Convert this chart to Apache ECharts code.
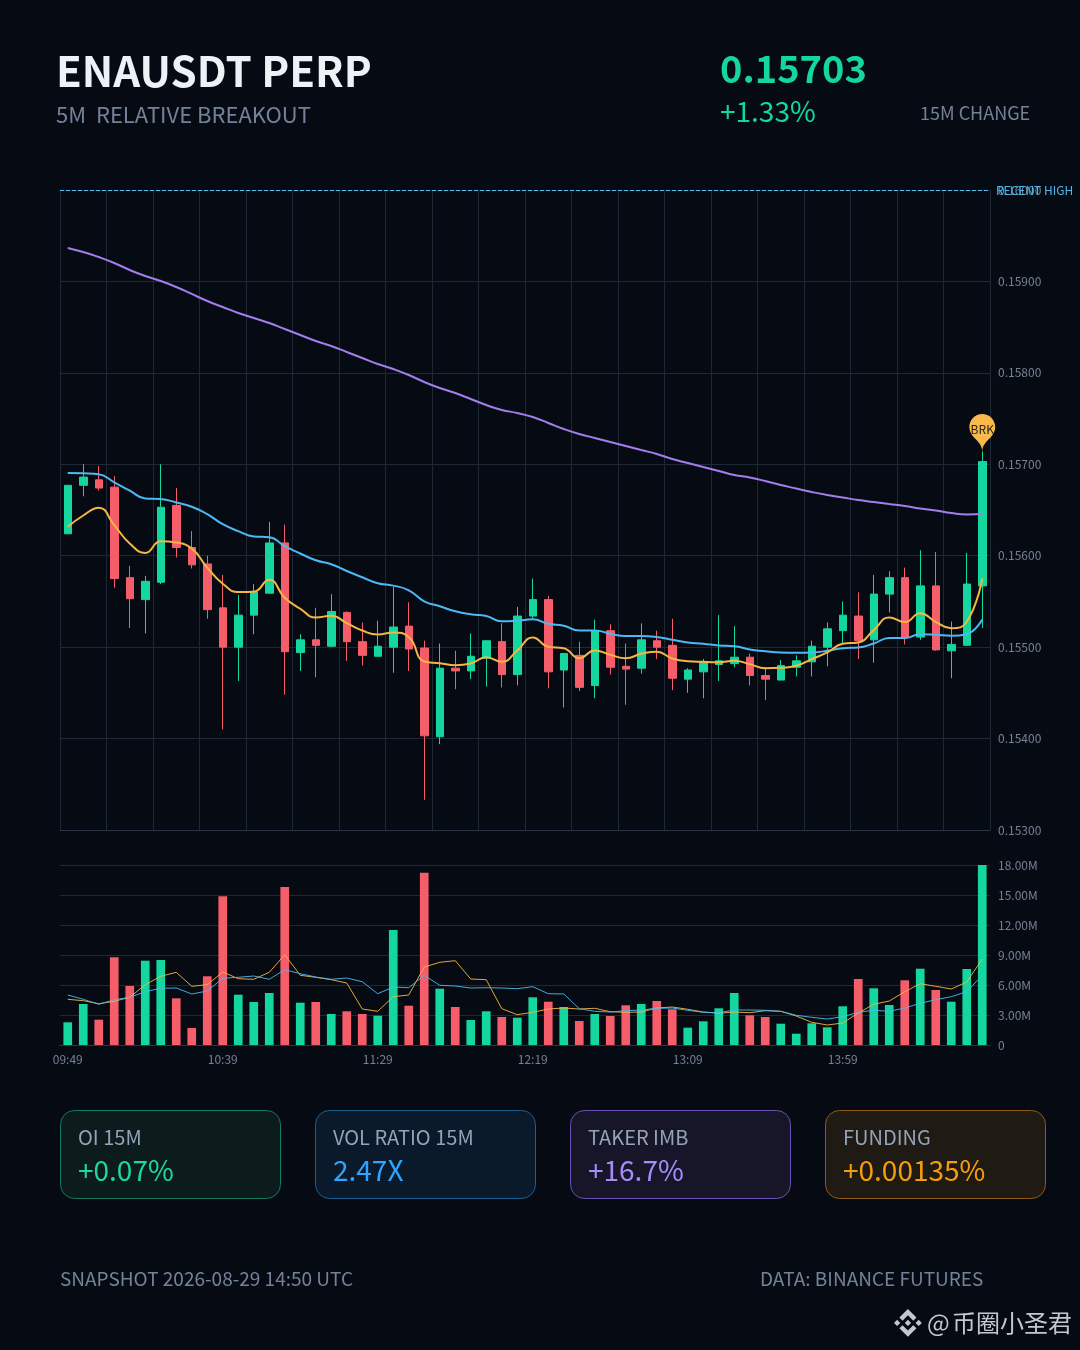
<!DOCTYPE html>
<html>
<head>
<meta charset="utf-8">
<style>html,body{margin:0;padding:0;background:#060b13}#c{width:1080px;height:1350px}</style>
<script src="https://cdn.jsdelivr.net/npm/echarts@6/dist/echarts.min.js"></script>
</head>
<body>
<div id="c"></div>
<script>
const categories = ["09:49","09:54","09:59","10:04","10:09","10:14","10:19","10:24","10:29","10:34","10:39","10:44","10:49","10:54","10:59","11:04","11:09","11:14","11:19","11:24","11:29","11:34","11:39","11:44","11:49","11:54","11:59","12:04","12:09","12:14","12:19","12:24","12:29","12:34","12:39","12:44","12:49","12:54","12:59","13:04","13:09","13:14","13:19","13:24","13:29","13:34","13:39","13:44","13:49","13:54","13:59","14:04","14:09","14:14","14:19","14:24","14:29","14:34","14:39","14:44"];
const opens = [.15624,.15677,.15683,.15675,.15576,.15552,.15571,.15655,.15609,.15591,.15543,.15500,.15535,.15559,.15614,.15494,.15508,.15501,.15538,.15506,.15490,.15500,.15523,.15499,.15402,.15477,.15474,.15488,.15506,.15470,.15534,.15552,.15475,.15491,.15458,.15518,.15479,.15477,.15507,.15502,.15465,.15473,.15481,.15482,.15489,.15469,.15464,.15478,.15484,.15500,.15518,.15534,.15508,.15558,.15576,.15511,.15567,.15496,.15502,.15567];
const closes = [.15677,.15686,.15674,.15575,.15553,.15572,.15653,.15609,.15590,.15541,.15500,.15535,.15560,.15614,.15495,.15508,.15502,.15539,.15506,.15491,.15501,.15522,.15498,.15403,.15477,.15474,.15490,.15507,.15470,.15534,.15552,.15473,.15493,.15456,.15518,.15478,.15476,.15508,.15500,.15466,.15475,.15484,.15485,.15489,.15469,.15465,.15480,.15485,.15501,.15520,.15535,.15507,.15558,.15576,.15511,.15567,.15497,.15503,.15569,.15703];
const highs = [.15677,.15700,.15698,.15687,.15589,.15578,.15700,.15674,.15627,.15600,.15579,.15557,.15569,.15637,.15634,.15514,.15543,.15558,.15539,.15527,.15529,.15566,.15549,.15507,.15504,.15496,.15515,.15507,.15526,.15544,.15575,.15556,.15493,.15506,.15530,.15525,.15504,.15526,.15518,.15531,.15477,.15487,.15535,.15523,.15493,.15478,.15486,.15491,.15507,.15527,.15550,.15560,.15579,.15583,.15587,.15606,.15604,.15528,.15603,.15714];
const lows = [.15624,.15665,.15671,.15565,.15521,.15515,.15569,.15598,.15586,.15531,.15410,.15463,.15514,.15559,.15448,.15474,.15467,.15500,.15485,.15480,.15490,.15472,.15474,.15333,.15394,.15454,.15465,.15457,.15456,.15458,.15530,.15455,.15434,.15452,.15444,.15470,.15437,.15471,.15487,.15453,.15450,.15444,.15463,.15478,.15458,.15442,.15464,.15468,.15468,.15479,.15504,.15487,.15483,.15538,.15503,.15508,.15496,.15466,.15502,.15521];
const maFast = [.156316,.156440,.156525,.156334,.156133,.156031,.156159,.156144,.156078,.155870,.155694,.155603,.155607,.155738,.155541,.155420,.155325,.155343,.155263,.155182,.155139,.155161,.155110,.154843,.154824,.154802,.154821,.154890,.154839,.154963,.155106,.155004,.154989,.154879,.154963,.154916,.154879,.154927,.154949,.154876,.154846,.154839,.154836,.154850,.154814,.154770,.154774,.154796,.154869,.154942,.155037,.155051,.155186,.155325,.155274,.155372,.155277,.155208,.155277,.155752];
const maMid = [.156905,.156901,.156890,.156803,.156711,.156627,.156620,.156583,.156536,.156455,.156345,.156269,.156210,.156203,.156104,.156024,.155950,.155907,.155833,.155764,.155699,.155673,.155622,.155501,.155447,.155392,.155359,.155340,.155282,.155289,.155304,.155256,.155234,.155183,.155183,.155146,.155121,.155121,.155110,.155081,.155051,.155037,.155018,.155011,.154974,.154956,.154942,.154938,.154942,.154960,.154989,.154996,.155040,.155099,.155099,.155142,.155135,.155124,.155142,.155303];
const maSlow = [.159366,.159322,.159267,.159202,.159125,.159059,.159005,.158939,.158863,.158786,.158720,.158655,.158600,.158545,.158480,.158414,.158348,.158294,.158228,.158163,.158097,.158042,.157977,.157900,.157834,.157780,.157714,.157648,.157594,.157561,.157517,.157452,.157386,.157331,.157288,.157244,.157200,.157156,.157113,.157058,.157014,.156970,.156927,.156883,.156855,.156817,.156773,.156735,.156697,.156664,.156637,.156609,.156588,.156566,.156544,.156516,.156495,.156467,.156451,.156456];
const volumeM = [2.27,4.10,2.53,8.77,5.90,8.43,8.50,4.67,1.70,6.87,14.87,5.03,4.30,5.20,15.80,4.23,4.30,3.10,3.37,3.10,2.93,11.50,3.93,17.23,5.63,3.80,2.50,3.37,2.80,2.73,4.77,4.33,3.80,2.40,3.10,2.90,3.97,4.10,4.40,3.57,1.73,2.37,3.67,5.20,2.97,2.80,2.13,1.13,2.17,1.77,3.87,6.60,5.67,4.00,6.47,7.63,5.50,4.33,7.60,18.00];
const volFastM = [4.57,4.43,4.13,4.37,4.77,6.03,6.87,7.27,5.87,6.03,7.30,6.63,6.57,7.27,9.03,6.97,6.77,6.53,6.20,3.60,3.37,4.83,5.00,7.80,8.27,8.43,6.60,6.53,3.63,3.03,3.27,3.60,3.70,3.60,3.67,3.33,3.27,3.30,3.70,3.80,3.57,3.30,3.17,3.30,3.23,3.43,3.37,2.90,2.27,2.00,2.20,3.20,4.07,4.40,5.33,6.13,5.87,5.60,6.30,8.60];
const volSlowM = [5.00,4.57,4.07,4.53,4.77,5.33,5.67,5.70,5.10,5.40,6.67,6.77,6.90,6.57,7.53,7.13,6.80,6.57,6.70,6.33,5.13,5.80,5.73,6.97,5.97,5.90,5.70,5.73,5.70,5.63,5.83,5.13,5.10,3.63,3.37,3.30,3.43,3.50,3.67,3.70,3.47,3.27,3.23,3.50,3.50,3.47,3.37,2.97,2.77,2.60,2.83,3.27,3.47,3.37,3.70,4.17,4.53,4.83,5.33,6.97];
const recentHigh = 0.16;
const breakoutPrice = 0.15714;
const stats = [
  {label:"OI 15M", value:"+0.07%", fill:"#0c1c1c", stroke:"#127a5e", color:"#1fd6a0"},
  {label:"VOL RATIO 15M", value:"2.47X", fill:"#0a1a2a", stroke:"#1d5f90", color:"#2ea6ff"},
  {label:"TAKER IMB", value:"+16.7%", fill:"#171528", stroke:"#6a50b4", color:"#a78bfa"},
  {label:"FUNDING", value:"+0.00135%", fill:"#1f1a14", stroke:"#8c5c18", color:"#f59e0b"}
];

const FONT = '"Noto Sans CJK SC","Noto Sans",sans-serif';
const UP = '#14d69f', DOWN = '#f65d6b';
const GRID = '#1e2836', AXT = '#748295', MUTED = '#748299';
const chart = echarts.init(document.getElementById('c'), null, {renderer:'canvas', width:1080, height:1350});

function txt(x, y, text, size, color, weight){
  return {type:'text', x, y, silent:true, style:{text, fontFamily:FONT, fontSize:size, fontWeight:weight||'normal', fill:color, verticalAlign:'middle'}};
}
const logoParts = [
  [[12,9.28],[14.72,12],[12,14.72],[9.27,12]],
  [[2.72,9.28],[5.41,12],[2.72,14.69],[0,12]],
  [[21.26,9.28],[24,12],[21.28,14.72],[18.57,12]],
  [[11.99,0.01],[19.34,7.34],[16.62,10.06],[11.99,5.42],[7.35,10.08],[4.63,7.36]],
  [[16.62,13.92],[19.34,16.64],[11.99,23.99],[4.64,16.64],[7.35,13.92],[11.99,18.58]]
];
const graphics = [
  txt(56,71,'ENAUSDT PERP',42,'#eef2f7','bold'),
  txt(56,115,'5M  RELATIVE BREAKOUT',22,MUTED),
  txt(720,69,'0.15703',38,UP,'bold'),
  txt(720,111,'+1.33%',28,UP),
  txt(920,113,'15M CHANGE',18,MUTED),
  txt(60,1279,'SNAPSHOT 2026-08-29 14:50 UTC',19,MUTED),
  txt(760,1279,'DATA: BINANCE FUTURES',19,MUTED),
  txt(927,1323,'@',24,'#c4c8cc'),
  txt(952,1323,'币圈小圣君',24,'#c4c8cc'),
  {type:'group', x:894, y:1309, scaleX:1.16, scaleY:1.16, silent:true,
    children:logoParts.map(p=>({type:'polygon', silent:true, shape:{points:p}, style:{fill:'#c4c8cc'}}))}
];
stats.forEach((s,i)=>{
  const x = 60.5 + 255*i;
  graphics.push({type:'rect', x, y:1110.5, silent:true, shape:{x:0,y:0,width:220,height:88,r:14}, style:{fill:s.fill, stroke:s.stroke, lineWidth:1}});
  graphics.push(txt(x+17.5,1137,s.label,20,'#94a3b8'));
  graphics.push(txt(x+17.5,1170,s.value,28,s.color));
});

const candleData = categories.map((_,i)=>[opens[i],closes[i],lows[i],highs[i]]);
const volumeData = volumeM.map((v,i)=>({value:v*1e6, itemStyle:{color: closes[i]>=opens[i]?UP:DOWN}}));
const toUnits = a => a.map(v=>v*1e6);

chart.setOption({
  animation:false,
  backgroundColor:'#060b13',
  textStyle:{fontFamily:FONT},
  graphic:graphics,
  grid:[
    {left:60,right:90,top:190,height:640,containLabel:false},
    {left:60,right:90,top:865,height:180,containLabel:false}
  ],
  xAxis:[
    {type:'category',gridIndex:0,data:categories,boundaryGap:true,
      axisLine:{lineStyle:{color:'#2a3546',width:1}},axisTick:{show:false},axisLabel:{show:false},
      splitLine:{show:true,interval:2,lineStyle:{color:GRID,width:1}}},
    {type:'category',gridIndex:1,data:categories,boundaryGap:true,
      axisLine:{lineStyle:{color:'#2a3546',width:1}},axisTick:{show:false},
      axisLabel:{interval:9,color:AXT,fontSize:12,margin:8,fontFamily:FONT,hideOverlap:false},
      splitLine:{show:false}}
  ],
  yAxis:[
    {type:'value',gridIndex:0,position:'right',min:0.153,max:0.16,interval:0.001,scale:true,
      axisLine:{show:false},axisTick:{show:false},
      axisLabel:{color:AXT,fontSize:12,margin:8,fontFamily:FONT,formatter:v=>v.toFixed(5)},
      splitLine:{show:true,lineStyle:{color:GRID,width:1}}},
    {type:'value',gridIndex:1,position:'right',min:0,max:18e6,interval:3e6,
      axisLine:{show:false},axisTick:{show:false},
      axisLabel:{color:AXT,fontSize:12,margin:8,fontFamily:FONT,formatter:v=>v===0?'0':(v/1e6).toFixed(2)+'M'},
      splitLine:{show:true,lineStyle:{color:GRID,width:1}}}
  ],
  series:[
    {type:'candlestick',xAxisIndex:0,yAxisIndex:0,data:candleData,barWidth:8,
      itemStyle:{color:UP,color0:DOWN,borderColor:UP,borderColor0:DOWN,borderWidth:1},
      markLine:{silent:true,symbol:'none',animation:false,
        lineStyle:{color:'#4fc3f7',type:'dashed',width:1},
        label:{show:true,position:'end',formatter:'RECENT HIGH',color:'#4fb6ea',fontSize:12,fontFamily:FONT,distance:6},
        data:[{yAxis:recentHigh}]},
      markPoint:{silent:true,animation:false,symbol:'pin',symbolSize:43,
        itemStyle:{color:'#f9b94b'},
        label:{show:true,formatter:'BRK',color:'#2a2415',fontSize:12,fontFamily:FONT},
        data:[{coord:[categories[categories.length-1],breakoutPrice]}]}},
    {type:'line',xAxisIndex:0,yAxisIndex:0,data:maSlow,smooth:true,showSymbol:false,lineStyle:{color:'#a47dec',width:2}},
    {type:'line',xAxisIndex:0,yAxisIndex:0,data:maMid,smooth:true,showSymbol:false,lineStyle:{color:'#4db8f2',width:2}},
    {type:'line',xAxisIndex:0,yAxisIndex:0,data:maFast,smooth:true,showSymbol:false,lineStyle:{color:'#f5b642',width:2}},
    {type:'bar',xAxisIndex:1,yAxisIndex:1,data:volumeData,barWidth:'56%'},
    {type:'line',xAxisIndex:1,yAxisIndex:1,data:toUnits(volFastM),showSymbol:false,lineStyle:{color:'#f5b642',width:1,opacity:.9}},
    {type:'line',xAxisIndex:1,yAxisIndex:1,data:toUnits(volSlowM),showSymbol:false,lineStyle:{color:'#4db8f2',width:1,opacity:.9}}
  ]
});
</script>
</body>
</html>
